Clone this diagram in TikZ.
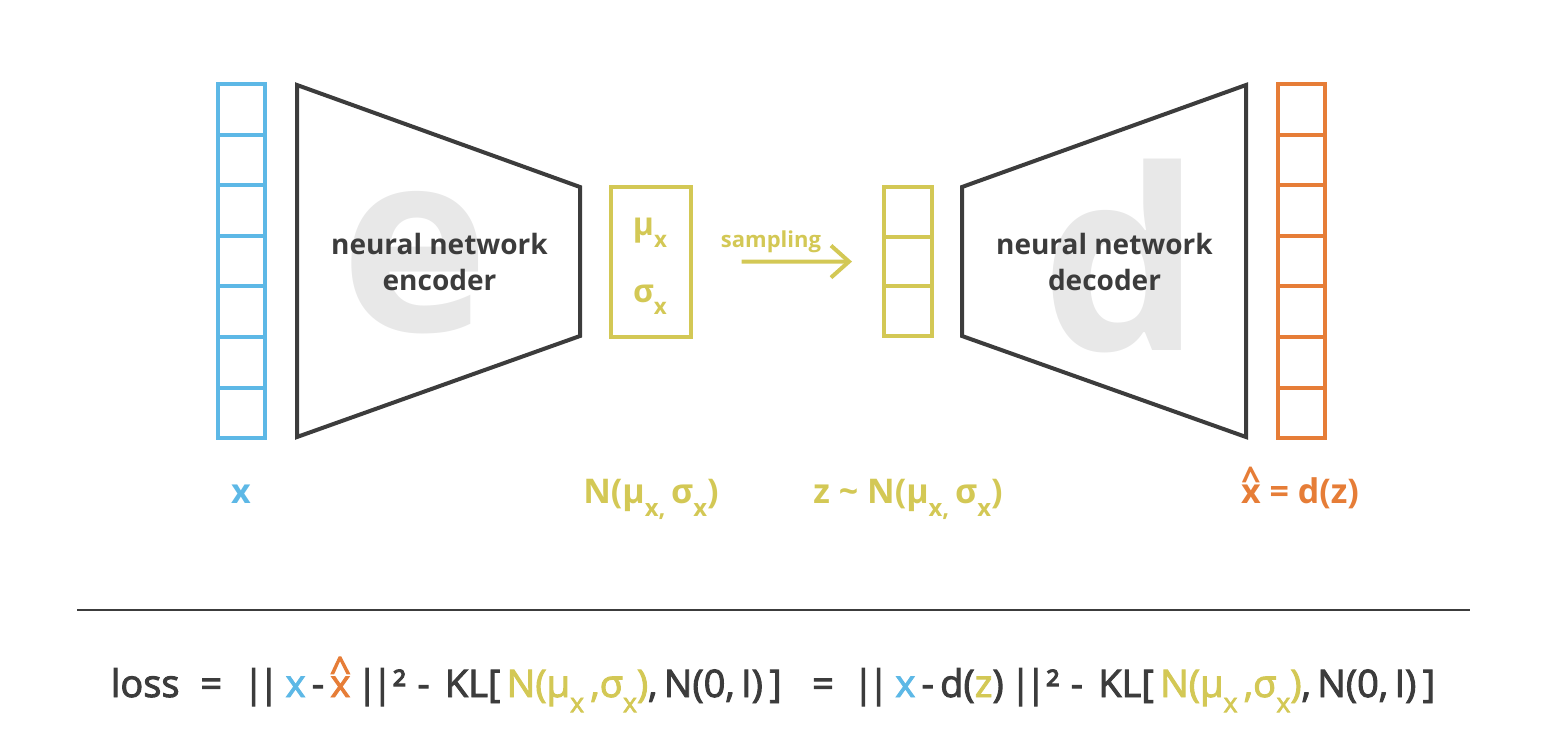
\documentclass[tikz,border=0pt]{standalone}
\usepackage{fontspec}
\setmainfont{Open Sans}
\newfontfamily\lossfont[FakeBold=2.5]{Open Sans}
\usepackage{xcolor}
\usetikzlibrary{positioning}
\usetikzlibrary{arrows.meta}
\definecolor{inblue}{RGB}{93,184,230}
\definecolor{outorange}{RGB}{230,125,55}
\definecolor{latent}{RGB}{211,200,85}
\definecolor{netgray}{RGB}{60,60,60}
\definecolor{ghost}{RGB}{232,232,232}
\newcommand{\sub}[1]{\raisebox{-0.4em}{\scalebox{0.7}{#1}}}
\newcommand{\xhat}{\ooalign{x\cr\hidewidth\raisebox{0.34em}{\textasciicircum}\hidewidth\cr}}
\newcommand{\bars}{\textbar\kern-0.15em\textbar}
\tikzset{
    cell/.style={draw=#1, line width=4pt, inner sep=0pt, outer sep=0pt, minimum width=47pt, minimum height=50.6pt},
    small cell/.style={cell=#1, minimum width=48pt, minimum height=49.7pt},
    net/.style={draw=netgray, line width=4pt, line join=miter},
    ghost letter/.style={text=ghost, font=\fontsize{252}{252}\selectfont\bfseries, inner sep=0pt, anchor=base},
    net text/.style={text=netgray, font=\fontsize{28}{36}\selectfont\bfseries, align=center},
    var text/.style={font=\fontsize{34}{40}\selectfont\bfseries, anchor=base, inner sep=0pt}
}
\begin{document}
\begin{tikzpicture}[x=1pt,y=-1pt]
    \useasboundingbox (0,0) rectangle (1548,752);
    % input vector
    \foreach \i in {1,...,7}
        \node(x\i)[cell=inblue] at (241.5,{58.7+50.6*\i}) {};
    % encoder
    \node(e)[ghost letter] at (415,331) {e};
    \draw[net] (297,85) -- (580,187) -- (580,336) -- (297,437) -- cycle;
    \node(enc)[net text] at (439.5,262) {neural network\\encoder};
    % mean and deviation
    \node(musig)[draw=latent, line width=4pt, inner sep=0pt, outer sep=0pt, minimum width=80pt, minimum height=150pt] at (650.5,261.5) {};
    \node(mu)[var text, text=latent, font=\fontsize{32}{32}\selectfont\bfseries] at (650,235) {μ\sub{x}};
    \node(sigma)[var text, text=latent, font=\fontsize{32}{32}\selectfont\bfseries] at (650,302) {σ\sub{x}};
    % sampled z
    \foreach \i in {1,2,3}
        \node(z\i)[small cell=latent] at (908,{162.2+49.7*\i}) {};
    \node(samp)[text=latent, font=\fontsize{22}{22}\selectfont\bfseries, anchor=base] at (771,247) {sampling};
    \draw[latent, line width=4pt, -{Straight Barb[length=18pt,width=32pt]}] ([xshift=51pt]musig.east) -- ([xshift=-32pt]z2.west);
    % decoder
    \node(d)[ghost letter] at (1121,350) {d};
    \draw[net] (962,187) -- (1246,85) -- (1246,437) -- (962,336) -- cycle;
    \node(dec)[net text] at (1104.5,262) {neural network\\decoder};
    % output vector
    \foreach \i in {1,...,7}
        \node(y\i)[cell=outorange] at (1301.5,{58.7+50.6*\i}) {};
    % labels
    \node(xlab)[var text, text=inblue] at (241,503) {x};
    \node(nlab)[var text, text=latent] at (651,503) {N(μ\sub{x,}\,σ\sub{x})};
    \node(zlab)[var text, text=latent] at (908,503) {z \char"7E{} N(μ\sub{x,}\,σ\sub{x})};
    \node(ylab)[var text, text=outorange] at (1300,503) {\xhat\ =\ d(z)};
    % loss
    \coordinate(rule l) at (77,610);
    \coordinate(rule r) at (1470,610);
    \draw[netgray, line width=1.5pt] (rule l) -- (rule r);
    \node(loss)[text=netgray, font=\fontsize{38}{40}\lossfont, anchor=base, inner sep=0pt] at (773,697)
        {loss\hspace{0.55em}=\hspace{0.55em}\bars\,\textcolor{inblue}{x}\,-\,\textcolor{outorange}{\xhat}\,\bars²\hspace{0.3em}-\hspace{0.4em}KL[\,\textcolor{latent}{N(μ\sub{x}\,,σ\sub{x})},\,N(0,\,I)\,]%
        \hspace{0.8em}=\hspace{0.5em}\bars\,\textcolor{inblue}{x}\,-\,d(\textcolor{latent}{z})\,\bars²\hspace{0.3em}-\hspace{0.4em}KL[\,\textcolor{latent}{N(μ\sub{x}\,,σ\sub{x})},\,N(0,\,I)\,]};
\end{tikzpicture}
\end{document}
